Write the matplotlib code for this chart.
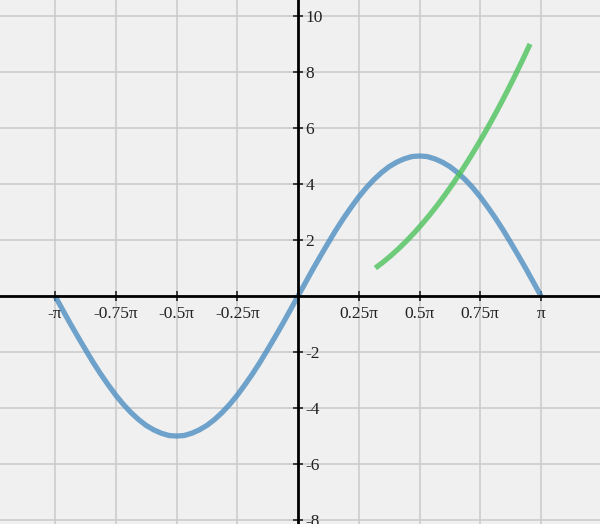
import numpy as np
import matplotlib
matplotlib.use("Agg")
import matplotlib.pyplot as plt

# sine-like curve, x in units of pi (step 1/32)
sine_x_pi = [k / 32 for k in range(-32, 33)]
half_up = [0.00, 0.49, 0.98, 1.45, 1.91, 2.36, 2.78, 3.17, 3.54, 3.87, 4.16,
           4.41, 4.62, 4.78, 4.90, 4.98, 5.00]
half_down = [4.98, 4.90, 4.78, 4.62, 4.41, 4.16, 3.87, 3.54, 3.17, 2.78, 2.36,
             1.91, 1.45, 0.98, 0.49, 0.00]
neg_up = [-0.00, -0.49, -0.98, -1.45, -1.91, -2.36, -2.78, -3.17, -3.54, -3.87,
          -4.16, -4.41, -4.62, -4.78, -4.90, -4.98, -5.00]
neg_down = [-4.98, -4.90, -4.78, -4.62, -4.41, -4.16, -3.87, -3.54, -3.17, -2.78,
            -2.36, -1.91, -1.45, -0.98, -0.49]
sine_y = neg_up + neg_down + half_up + half_down

# green curve
green_x = [1.0, 1.1, 1.2, 1.3, 1.4, 1.5, 1.6, 1.7, 1.8, 1.9, 2.0,
           2.1, 2.2, 2.3, 2.4, 2.5, 2.6, 2.7, 2.8, 2.9, 3.0]
green_y = [1.00, 1.21, 1.44, 1.69, 1.96, 2.25, 2.56, 2.89, 3.24, 3.61, 4.00,
           4.41, 4.84, 5.29, 5.76, 6.25, 6.76, 7.29, 7.84, 8.41, 9.00]

x_tick_pi = [-1, -0.75, -0.5, -0.25, 0.25, 0.5, 0.75, 1]
x_tick_labels = ["-π", "-0.75π", "-0.5π", "-0.25π", "0.25π", "0.5π", "0.75π", "π"]
y_ticks = [-8, -6, -4, -2, 2, 4, 6, 8, 10]

fig = plt.figure(figsize=(6.0, 5.24), dpi=100)
ax = fig.add_axes([0, 0, 1, 1])
ax.set_facecolor("#f0f0f0")
fig.patch.set_facecolor("#f0f0f0")

ax.set_xlim(-3.853, 3.904)
ax.set_ylim(-8.14, 10.57)

# grid
for v in [-1, -0.75, -0.5, -0.25, 0, 0.25, 0.5, 0.75, 1]:
    ax.axvline(v * np.pi, color="#cccccc", lw=1.2, zorder=0)
for v in [-8, -6, -4, -2, 0, 2, 4, 6, 8, 10]:
    ax.axhline(v, color="#cccccc", lw=1.2, zorder=0)

ax.plot(np.array(sine_x_pi) * np.pi, sine_y, color="#4f8fc2", alpha=0.8,
        lw=3.8, solid_capstyle="butt", zorder=3)
ax.plot(green_x, green_y, color="#4cc25c", alpha=0.8,
        lw=3.8, solid_capstyle="butt", zorder=3)

for s in ["top", "left"]:
    ax.spines[s].set_visible(False)
ax.spines["bottom"].set_position(("data", 0))
ax.spines["right"].set_position(("data", 0))
ax.spines["bottom"].set_linewidth(2)
ax.spines["right"].set_linewidth(2)
ax.spines["bottom"].set_zorder(4)
ax.spines["right"].set_zorder(4)

ax.yaxis.tick_right()
ax.set_xticks([v * np.pi for v in x_tick_pi])
ax.set_xticklabels(x_tick_labels)
ax.set_yticks(y_ticks)
ax.set_yticklabels([str(v) for v in y_ticks])
ax.tick_params(axis="both", direction="inout", length=7, width=1.2,
               colors="#222222", labelsize=12.5, pad=2)
ax.tick_params(axis="x", pad=4)
for lab in ax.get_xticklabels() + ax.get_yticklabels():
    lab.set_family(["Liberation Serif", "DejaVu Serif"])

fig.savefig("out.png", dpi=100, facecolor=fig.get_facecolor())
